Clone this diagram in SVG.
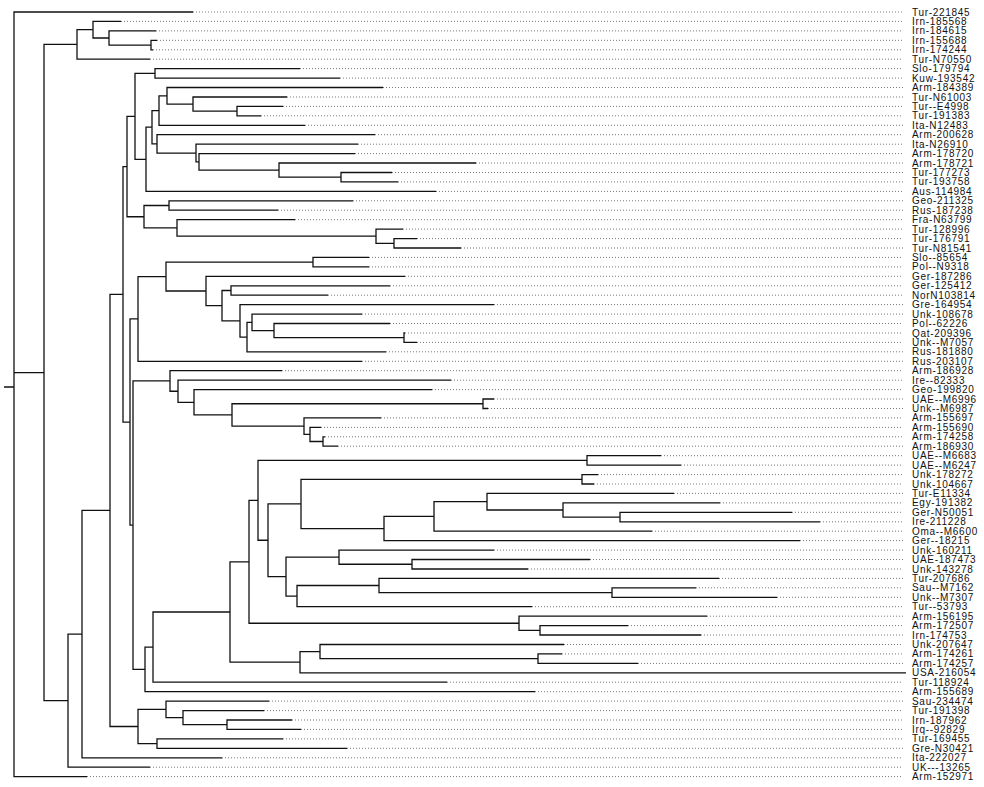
<svg xmlns="http://www.w3.org/2000/svg" width="984" height="787" viewBox="0 0 984 787">
<style>
.b{fill:none;stroke:#111;stroke-width:1.3}
.d{fill:none;stroke:#777;stroke-width:1;stroke-dasharray:1 2}
.s{fill:none;stroke:#111;stroke-width:1.3}
text{font-family:"Liberation Sans",Arial,sans-serif;font-size:10px;letter-spacing:0.7px;fill:#111}
</style>
<rect width="984" height="787" fill="#fff"/>
<g id="connectors" class="b">
<path d="M193,12H14V776.6H87 M14,372.55H44 M4,387H14"/>
<path d="M77,44.45H44V700.65H68 M93,29.69H77V59.2H150 M121,21.4H93V37.98H109 M156,30.9H109V45.05H151 M157,40.3H151V49.8H153"/>
<path d="M82,634.1H68V767.2H150 M110,510.4H82V757.8H222 M123,294.3H110V726.49H138 M127,166.53H123V422.07H130 M135,116.33H127V216.73H144"/>
<path d="M155,73.35H135V159.3H146 M300,68.6H155V78.1H340 M152,127.2H146V191.4H436 M159,110.54H152V143.87H157 M167,95.78H159V125.3H305 M383,87.5H167V104.05H193 M287,97H193V111.1H237 M283,106.4H237V115.8H261"/>
<path d="M375,134.7H157V153.03H196 M358,144.2H196V161.85H199 M355,153.6H199V170.1H279 M476,163H279V177.2H341 M392,172.5H341V181.9H398"/>
<path d="M169,205.5H144V227.95H177 M353,200.8H169V210.2H278 M295,219.7H177V236.2H376 M403,229.1H376V243.3H394 M417,238.6H394V248H461"/>
<path d="M138,318.94H130V525.19H133 M166,276.57H138V361.3H362 M313,262.15H166V290.99H206 M369,257.4H313V266.9H369 M405,276.3H206V305.67H222 M231,290.5H222V320.84H240 M390,285.8H231V295.2H328 M494,304.6H240V337.08H247 M252,322.35H247V351.8H386 M362,314.1H252V330.6H274 M390,323.5H274V337.7H404 M405,333H404V342.4H417"/>
<path d="M170,380.97H133V669.4H145 M282,370.7H170V391.24H178 M451,380.2H178V402.28H194 M432,389.6H194V414.97H232 M483,403.75H232V426.18H304 M494,399H483V408.5H488 M381,417.9H304V434.45H310 M321,427.4H310V441.5H323 M325,436.8H323V446.2H338"/>
<path d="M153,647.1H145V691.7H535 M230,611.99H153V682.2H447 M249,561.79H230V662.19H300 M258,500.33H249V623.25H519 M587,460.4H258V540.27H268 M661,455.7H587V465.1H681 M301,503.9H268V576.63H286 M582,479.3H301V528.53H384 M598,474.6H582V484H594 M434,516.45H384V540.6H800 M487,501.69H434V531.2H652 M674,493.4H487V509.98H563 M720,502.9H563V517.05H620 M792,512.3H620V521.8H820"/>
<path d="M339,557.18H286V596.09H297 M494,550.1H339V564.25H412 M590,559.5H412V569H528 M379,585.48H297V606.7H532 M719,578.4H379V592.55H612 M696,587.8H612V597.3H777 M707,616.2H519V630.3H540 M628,625.6H540V635H701 M320,651.58H300V672.8H906 M564,644.5H320V658.65H538 M562,653.9H538V663.4H638"/>
<path d="M166,709.38H138V743.6H157 M269,701.1H166V717.65H183 M264,710.6H183V724.7H227 M292,720H227V729.4H301 M283,738.9H157V748.3H347"/>
</g>
<g id="leaves">
<g id="n1"><path class="d" d="M193,12H903"/><text x="912" y="15.5">Tur-221845</text></g>
<g id="n2"><path class="d" d="M121,21.4H903"/><text x="912" y="24.9">Irn-185568</text></g>
<g id="n3"><path class="d" d="M156,30.9H903"/><text x="912" y="34.4">Irn-184615</text></g>
<g id="n4"><path class="d" d="M157,40.3H903"/><text x="912" y="43.8">Irn-155688</text></g>
<g id="n5"><path class="d" d="M153,49.8H903"/><text x="912" y="53.3">Irn-174244</text></g>
<g id="n6"><path class="d" d="M150,59.2H903"/><text x="912" y="62.7">Tur-N70550</text></g>
<g id="n7"><path class="d" d="M300,68.6H903"/><text x="912" y="72.1">Slo-179794</text></g>
<g id="n8"><path class="d" d="M340,78.1H903"/><text x="912" y="81.6">Kuw-193542</text></g>
<g id="n9"><path class="d" d="M383,87.5H903"/><text x="912" y="91">Arm-184389</text></g>
<g id="n10"><path class="d" d="M287,97H903"/><text x="912" y="100.5">Tur-N61003</text></g>
<g id="n11"><path class="d" d="M283,106.4H903"/><text x="912" y="109.9">Tur--E4998</text></g>
<g id="n12"><path class="d" d="M261,115.8H903"/><text x="912" y="119.3">Tur-191383</text></g>
<g id="n13"><path class="d" d="M305,125.3H903"/><text x="912" y="128.8">Ita-N12483</text></g>
<g id="n14"><path class="d" d="M375,134.7H903"/><text x="912" y="138.2">Arm-200628</text></g>
<g id="n15"><path class="d" d="M358,144.2H903"/><text x="912" y="147.7">Ita-N26910</text></g>
<g id="n16"><path class="d" d="M355,153.6H903"/><text x="912" y="157.1">Arm-178720</text></g>
<g id="n17"><path class="d" d="M476,163H903"/><text x="912" y="166.5">Arm-178721</text></g>
<g id="n18"><path class="d" d="M392,172.5H903"/><text x="912" y="176">Tur-177273</text></g>
<g id="n19"><path class="d" d="M398,181.9H903"/><text x="912" y="185.4">Tur-193758</text></g>
<g id="n20"><path class="d" d="M436,191.4H903"/><text x="912" y="194.9">Aus-114984</text></g>
<g id="n21"><path class="d" d="M353,200.8H903"/><text x="912" y="204.3">Geo-211325</text></g>
<g id="n22"><path class="d" d="M278,210.2H903"/><text x="912" y="213.7">Rus-187238</text></g>
<g id="n23"><path class="d" d="M295,219.7H903"/><text x="912" y="223.2">Fra-N63799</text></g>
<g id="n24"><path class="d" d="M403,229.1H903"/><text x="912" y="232.6">Tur-128996</text></g>
<g id="n25"><path class="d" d="M417,238.6H903"/><text x="912" y="242.1">Tur-176791</text></g>
<g id="n26"><path class="d" d="M461,248H903"/><text x="912" y="251.5">Tur-N81541</text></g>
<g id="n27"><path class="d" d="M369,257.4H903"/><text x="912" y="260.9">Slo--85654</text></g>
<g id="n28"><path class="d" d="M369,266.9H903"/><text x="912" y="270.4">Pol--N9318</text></g>
<g id="n29"><path class="d" d="M405,276.3H903"/><text x="912" y="279.8">Ger-187286</text></g>
<g id="n30"><path class="d" d="M390,285.8H903"/><text x="912" y="289.3">Ger-125412</text></g>
<g id="n31"><path class="d" d="M328,295.2H903"/><text x="912" y="298.7">NorN103814</text></g>
<g id="n32"><path class="d" d="M494,304.6H903"/><text x="912" y="308.1">Gre-164954</text></g>
<g id="n33"><path class="d" d="M362,314.1H903"/><text x="912" y="317.6">Unk-108678</text></g>
<g id="n34"><path class="d" d="M390,323.5H903"/><text x="912" y="327">Pol--62226</text></g>
<g id="n35"><path class="d" d="M405,333H903"/><text x="912" y="336.5">Qat-209396</text></g>
<g id="n36"><path class="d" d="M417,342.4H903"/><text x="912" y="345.9">Unk--M7057</text></g>
<g id="n37"><path class="d" d="M386,351.8H903"/><text x="912" y="355.3">Rus-181880</text></g>
<g id="n38"><path class="d" d="M362,361.3H903"/><text x="912" y="364.8">Rus-203107</text></g>
<g id="n39"><path class="d" d="M282,370.7H903"/><text x="912" y="374.2">Arm-186928</text></g>
<g id="n40"><path class="d" d="M451,380.2H903"/><text x="912" y="383.7">Ire--82333</text></g>
<g id="n41"><path class="d" d="M432,389.6H903"/><text x="912" y="393.1">Geo-199820</text></g>
<g id="n42"><path class="d" d="M494,399H903"/><text x="912" y="402.5">UAE--M6996</text></g>
<g id="n43"><path class="d" d="M488,408.5H903"/><text x="912" y="412">Unk--M6987</text></g>
<g id="n44"><path class="d" d="M381,417.9H903"/><text x="912" y="421.4">Arm-155697</text></g>
<g id="n45"><path class="d" d="M321,427.4H903"/><text x="912" y="430.9">Arm-155690</text></g>
<g id="n46"><path class="d" d="M325,436.8H903"/><text x="912" y="440.3">Arm-174258</text></g>
<g id="n47"><path class="d" d="M338,446.2H903"/><text x="912" y="449.7">Arm-186930</text></g>
<g id="n48"><path class="d" d="M661,455.7H903"/><text x="912" y="459.2">UAE--M6683</text></g>
<g id="n49"><path class="d" d="M681,465.1H903"/><text x="912" y="468.6">UAE--M6247</text></g>
<g id="n50"><path class="d" d="M598,474.6H903"/><text x="912" y="478.1">Unk-178272</text></g>
<g id="n51"><path class="d" d="M594,484H903"/><text x="912" y="487.5">Unk-104667</text></g>
<g id="n52"><path class="d" d="M674,493.4H903"/><text x="912" y="496.9">Tur-E11334</text></g>
<g id="n53"><path class="d" d="M720,502.9H903"/><text x="912" y="506.4">Egy-191382</text></g>
<g id="n54"><path class="d" d="M792,512.3H903"/><text x="912" y="515.8">Ger-N50051</text></g>
<g id="n55"><path class="d" d="M820,521.8H903"/><text x="912" y="525.3">Ire-211228</text></g>
<g id="n56"><path class="d" d="M652,531.2H903"/><text x="912" y="534.7">Oma--M6600</text></g>
<g id="n57"><path class="d" d="M800,540.6H903"/><text x="912" y="544.1">Ger--18215</text></g>
<g id="n58"><path class="d" d="M494,550.1H903"/><text x="912" y="553.6">Unk-160211</text></g>
<g id="n59"><path class="d" d="M590,559.5H903"/><text x="912" y="563">UAE-187473</text></g>
<g id="n60"><path class="d" d="M528,569H903"/><text x="912" y="572.5">Unk-143278</text></g>
<g id="n61"><path class="d" d="M719,578.4H903"/><text x="912" y="581.9">Tur-207686</text></g>
<g id="n62"><path class="d" d="M696,587.8H903"/><text x="912" y="591.3">Sau--M7162</text></g>
<g id="n63"><path class="d" d="M777,597.3H903"/><text x="912" y="600.8">Unk--M7307</text></g>
<g id="n64"><path class="d" d="M532,606.7H903"/><text x="912" y="610.2">Tur--53793</text></g>
<g id="n65"><path class="d" d="M707,616.2H903"/><text x="912" y="619.7">Arm-156195</text></g>
<g id="n66"><path class="d" d="M628,625.6H903"/><text x="912" y="629.1">Arm-172507</text></g>
<g id="n67"><path class="d" d="M701,635H903"/><text x="912" y="638.5">Irn-174753</text></g>
<g id="n68"><path class="d" d="M564,644.5H903"/><text x="912" y="648">Unk-207647</text></g>
<g id="n69"><path class="d" d="M562,653.9H903"/><text x="912" y="657.4">Arm-174261</text></g>
<g id="n70"><path class="d" d="M638,663.4H903"/><text x="912" y="666.9">Arm-174257</text></g>
<g id="n71"><text x="912" y="676.3">USA-216054</text></g>
<g id="n72"><path class="d" d="M447,682.2H903"/><text x="912" y="685.7">Tur-118924</text></g>
<g id="n73"><path class="d" d="M535,691.7H903"/><text x="912" y="695.2">Arm-155689</text></g>
<g id="n74"><path class="d" d="M269,701.1H903"/><text x="912" y="704.6">Sau-234474</text></g>
<g id="n75"><path class="d" d="M264,710.6H903"/><text x="912" y="714.1">Tur-191398</text></g>
<g id="n76"><path class="d" d="M292,720H903"/><text x="912" y="723.5">Irn-187962</text></g>
<g id="n77"><path class="d" d="M301,729.4H903"/><text x="912" y="732.9">Irq--92829</text></g>
<g id="n78"><path class="d" d="M283,738.9H903"/><text x="912" y="742.4">Tur-169455</text></g>
<g id="n79"><path class="d" d="M347,748.3H903"/><text x="912" y="751.8">Gre-N30421</text></g>
<g id="n80"><path class="d" d="M222,757.8H903"/><text x="912" y="761.3">Ita-222027</text></g>
<g id="n81"><path class="d" d="M150,767.2H903"/><text x="912" y="770.7">UK---13265</text></g>
<g id="n82"><path class="d" d="M87,776.6H903"/><text x="912" y="780.1">Arm-152971</text></g>
</g>
</svg>
